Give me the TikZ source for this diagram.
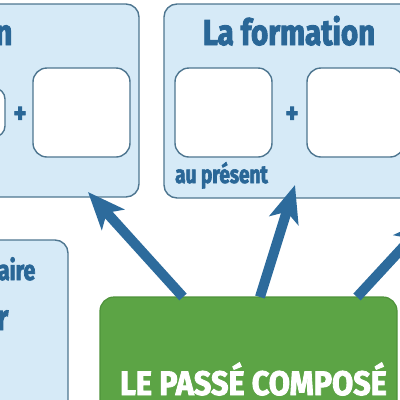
\documentclass[tikz,border=0pt]{standalone}
\usepackage{fontspec}
\newfontfamily\cf[FakeStretch=0.82,FakeBold=2.5]{Fira Sans}
\newfontfamily\cfs[FakeStretch=0.76,FakeBold=2.5]{Fira Sans}
\newfontfamily\cfw[FakeStretch=0.9,FakeBold=2.5]{Fira Sans}
\usetikzlibrary{arrows.meta}
\definecolor{panelfill}{HTML}{D6EAF7}
\definecolor{panelline}{HTML}{4E7690}
\definecolor{titleblue}{HTML}{2A6797}
\definecolor{arrowblue}{HTML}{2D6B9C}
\definecolor{greenbox}{HTML}{5CA445}
\definecolor{greenline}{HTML}{4E923A}
\tikzset{
  panel/.style={draw=panelline, fill=panelfill, line width=1.4pt, rounded corners=13pt, inner sep=0pt},
  slot/.style={draw=panelline, fill=white, line width=1.4pt, rounded corners=14pt, inner sep=0pt},
  mainbox/.style={draw=greenline, fill=greenbox, line width=1.2pt, rounded corners=14pt, inner sep=0pt},
  ttl/.style={text=titleblue, font=\cf\bfseries\fontsize{36}{40}\selectfont, inner sep=0pt},
  sub/.style={text=titleblue, font=\cfs\bfseries\fontsize{25}{28}\selectfont, inner sep=0pt},
  plus/.style={text=titleblue, font=\cf\bfseries\fontsize{30}{30}\selectfont, inner sep=0pt},
  bigarrow/.style={draw=arrowblue, line width=10pt, -{Stealth[length=37pt, width=30pt, inset=9pt]}},
}
\begin{document}
\begin{tikzpicture}[x=1pt, y=-1pt]
\useasboundingbox (0,0) rectangle (400,400);
\clip (0,0) rectangle (400,400);
% panels
\node[panel, minimum width=240pt, minimum height=193pt] (pL) at (19,100.5) {};
\node[panel, minimum width=249pt, minimum height=194pt] (pR) at (288.5,101) {};
\node[panel, minimum width=188pt, minimum height=210pt] (pB) at (-26,345) {};
% slots
\node[slot, rounded corners=11pt, minimum width=55pt, minimum height=49pt] (sA) at (-22.5,112.5) {};
\node[slot, minimum width=97pt, minimum height=89pt] (sB) at (81.5,112.5) {};
\node[slot, minimum width=97pt, minimum height=89pt] (sC) at (223.5,112.5) {};
\node[slot, minimum width=97pt, minimum height=89pt] (sD) at (355.5,112.5) {};
% plus signs
\node[plus] (plL) at (20,115) {+};
\node[plus] (plR) at (292,115) {+};
% texts
\node[ttl, anchor=base] (tR) at (289,45) {La formation};
\node[ttl, anchor=base east] (tL) at (12.5,45) {n};
\node[sub, anchor=base west] (au) at (175,183) {au présent};
\node[sub, font=\cfs\bfseries\fontsize{28}{30}\selectfont, anchor=base east] (aire) at (35.5,280) {aire};
\node[ttl, anchor=base east] (rr) at (8.5,330) {r};
% main box
\node[mainbox, minimum width=297pt, minimum height=170pt] (main) at (248.5,382) {};
\node[text=white, font=\cfw\bfseries\fontsize{34}{38}\selectfont, inner sep=0pt, anchor=base] (mt) at (253.5,395) {LE PASSÉ COMPOSÉ};
% arrows
\coordinate (a1s) at (183,297);
\coordinate (a1e) at (88,192);
\coordinate (a2s) at (260,297);
\coordinate (a2e) at (295,185);
\coordinate (a3s) at (357,297);
\coordinate (a3e) at (430,218);
\draw[bigarrow] (a1s) -- (a1e);
\draw[bigarrow] (a2s) -- (a2e);
\draw[bigarrow] (a3s) -- (a3e);
\end{tikzpicture}
\end{document}
